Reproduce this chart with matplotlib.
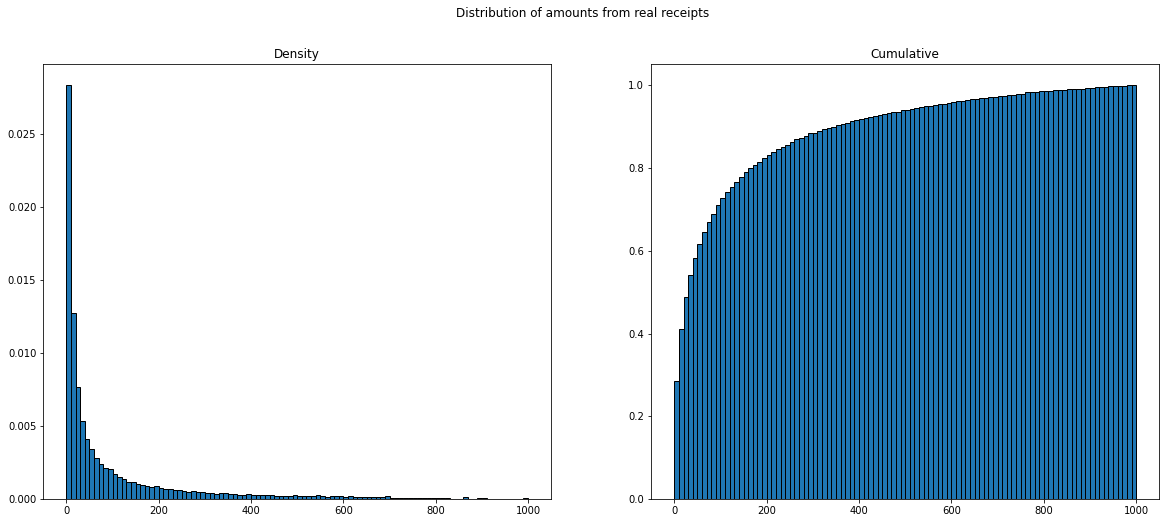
import numpy as np
import matplotlib
matplotlib.use("Agg")
import matplotlib.pyplot as plt

# 100 bins of width 10 between 0 and 1000
bin_edges = np.linspace(0, 1000, 101)

density = [
    0.02838, 0.01274, 0.00767, 0.00537, 0.00411, 0.00342, 0.00281, 0.00242, 0.00212, 0.00205,
    0.00174, 0.00153, 0.00137, 0.00116, 0.00116, 0.00105, 0.00098, 0.00089, 0.00082, 0.00089,
    0.00075, 0.00068, 0.00068, 0.00062, 0.00062, 0.00055, 0.00048, 0.00055, 0.00048, 0.00048,
    0.00041, 0.00041, 0.00034, 0.00041, 0.00041, 0.00034, 0.00034, 0.00027, 0.00027, 0.00037,
    0.00027, 0.00027, 0.00027, 0.00027, 0.00027, 0.00021, 0.00021, 0.00021, 0.00021, 0.00027,
    0.00021, 0.00021, 0.00021, 0.00021, 0.00027, 0.00021, 0.00014, 0.00021, 0.00021, 0.00021,
    0.00014, 0.00021, 0.00014, 0.00014, 0.00014, 0.00014, 0.00014, 0.00014, 0.00014, 0.00021,
    0.00010, 0.00010, 0.00010, 0.00010, 0.00010, 0.00010, 0.00010, 0.00010, 0.00010, 0.00010,
    0.00010, 0.00010, 0.00010, 0.00005, 0.00005, 0.00005, 0.00015, 0.00005, 0.00005, 0.00010,
    0.00010, 0.00005, 0.00005, 0.00005, 0.00005, 0.00005, 0.00005, 0.00005, 0.00005, 0.00012,
]

cumulative = [
    0.285, 0.411, 0.488, 0.541, 0.583, 0.617, 0.645, 0.670, 0.689, 0.711,
    0.728, 0.742, 0.754, 0.766, 0.778, 0.789, 0.799, 0.808, 0.815, 0.825,
    0.832, 0.839, 0.845, 0.851, 0.856, 0.863, 0.869, 0.873, 0.878, 0.883,
    0.885, 0.890, 0.893, 0.897, 0.899, 0.904, 0.907, 0.909, 0.912, 0.916,
    0.919, 0.921, 0.924, 0.926, 0.928, 0.931, 0.933, 0.936, 0.936, 0.940,
    0.940, 0.943, 0.945, 0.948, 0.950, 0.950, 0.952, 0.955, 0.955, 0.957,
    0.960, 0.962, 0.962, 0.965, 0.967, 0.967, 0.969, 0.969, 0.972, 0.972,
    0.974, 0.974, 0.977, 0.977, 0.979, 0.979, 0.982, 0.982, 0.984, 0.986,
    0.986, 0.986, 0.989, 0.989, 0.989, 0.991, 0.991, 0.991, 0.991, 0.994,
    0.994, 0.996, 0.996, 0.996, 0.998, 0.998, 0.998, 0.998, 1.000, 1.000,
]

W, H = 1165, 523
fig = plt.figure(figsize=(W / 72, H / 72), dpi=72)

ax1 = fig.add_axes([43.3 / W, 1 - 499.3 / H, (551.2 - 43.3) / W, (499.3 - 64.3) / H])
ax2 = fig.add_axes([651.2 / W, 1 - 499.3 / H, (1159.3 - 651.2) / W, (499.3 - 64.3) / H])

ax1.hist(bin_edges[:-1], bins=bin_edges, weights=density, edgecolor="black")
ax1.set_title("Density")

ax2.hist(bin_edges[:-1], bins=bin_edges, weights=cumulative, edgecolor="black")
ax2.set_title("Cumulative")

fig.suptitle("Distribution of amounts from real receipts", y=1 - 13 / H, va="center")

fig.savefig("out.png", dpi=72, facecolor="white")
